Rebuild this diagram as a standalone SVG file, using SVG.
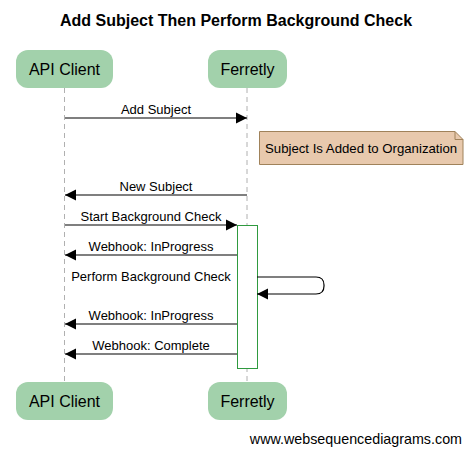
<svg xmlns="http://www.w3.org/2000/svg" width="472" height="454" viewBox="0 0 472 454">
<style>
text{font-family:"Liberation Sans",Arial,sans-serif;fill:#000}
.actor rect{fill:#a2d1ab;stroke:none}
.actor text{font-size:16px;text-anchor:middle}
.life{stroke:#b0b0b0;stroke-width:1;stroke-dasharray:5,4}
.msg{stroke:#000;stroke-width:1.2;fill:none}
.lbl{font-size:13px;text-anchor:middle}
</style>
<defs>
<marker id="ah" markerWidth="12" markerHeight="12" refX="11" refY="6" orient="auto" markerUnits="userSpaceOnUse">
<path d="M0,0.5 L11,6 L0,11.5 Z" fill="#000"/>
</marker>
</defs>
<rect width="472" height="454" fill="#fff"/>
<text x="236" y="26" font-size="16" font-weight="bold" text-anchor="middle">Add Subject Then Perform Background Check</text>
<g id="lifelines">
<line class="life" x1="64.5" y1="88" x2="64.5" y2="382"/>
<line class="life" x1="247" y1="88" x2="247" y2="382"/>
</g>
<g id="activation">
<rect x="237.5" y="225.5" width="20" height="143" fill="#fff" stroke="#2f9a3f" stroke-width="1"/>
</g>
<g id="api-client-top" class="actor"><rect x="16" y="50" width="97" height="38" rx="12"/><text x="64.5" y="75">API Client</text></g>
<g id="ferretly-top" class="actor"><rect x="208" y="50" width="79" height="38" rx="12"/><text x="247.5" y="75">Ferretly</text></g>
<g id="api-client-bottom" class="actor"><rect x="16" y="382" width="97" height="38" rx="12"/><text x="64.5" y="407">API Client</text></g>
<g id="ferretly-bottom" class="actor"><rect x="208" y="382" width="79" height="38" rx="12"/><text x="247.5" y="407">Ferretly</text></g>
<g id="note">
<path d="M259.5,131.5 H455 L463,139.5 V164.5 H259.5 Z" fill="#e8c9ad" stroke="#a0825a" stroke-width="1"/>
<path d="M455,131.5 V139.5 H463" fill="none" stroke="#a0825a" stroke-width="1"/>
<text x="265" y="153" font-size="13.2">Subject Is Added to Organization</text>
</g>
<g id="connectors">
<line class="msg" x1="65" y1="118" x2="247" y2="118" marker-end="url(#ah)"/>
<text class="lbl" x="156" y="114">Add Subject</text>
<line class="msg" x1="247" y1="195" x2="65" y2="195" marker-end="url(#ah)"/>
<text class="lbl" x="156" y="191">New Subject</text>
<line class="msg" x1="65" y1="225" x2="237" y2="225" marker-end="url(#ah)"/>
<text class="lbl" x="151" y="221">Start Background Check</text>
<line class="msg" x1="237" y1="255" x2="65" y2="255" marker-end="url(#ah)"/>
<text class="lbl" x="151" y="251">Webhook: InProgress</text>
<path class="msg" d="M257,277 H316 Q324,277 324,285 V286 Q324,294 316,294 H257" marker-end="url(#ah)"/>
<text class="lbl" x="151" y="281">Perform Background Check</text>
<line class="msg" x1="237" y1="324" x2="65" y2="324" marker-end="url(#ah)"/>
<text class="lbl" x="151" y="320">Webhook: InProgress</text>
<line class="msg" x1="237" y1="354" x2="65" y2="354" marker-end="url(#ah)"/>
<text class="lbl" x="151" y="350">Webhook: Complete</text>
</g>
<text x="462" y="444" font-size="14.3" text-anchor="end">www.websequencediagrams.com</text>
</svg>
